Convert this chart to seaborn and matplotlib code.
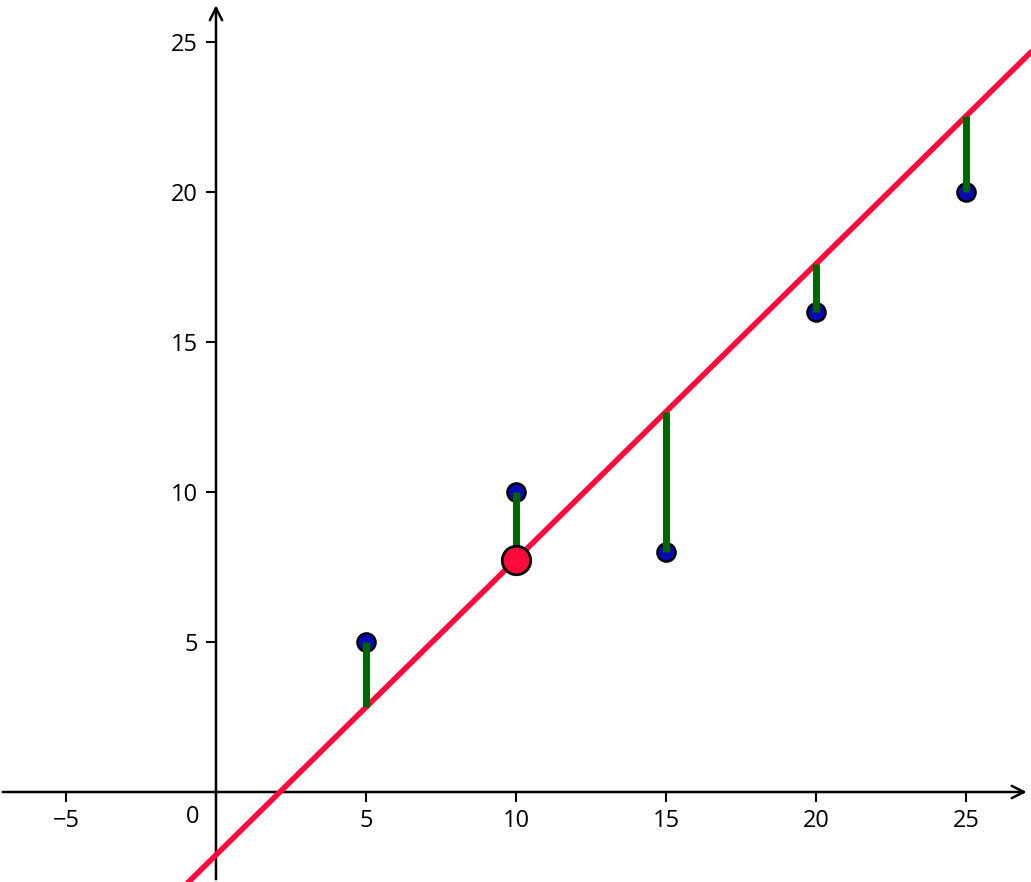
import numpy as np
import pandas as pd
import seaborn as sns
import matplotlib.pyplot as plt

# data points
pts_x = [5, 10, 15, 20, 25]
pts_y = [5, 10, 8, 16, 20]

# fitted line and the red point on it
line_slope = 0.985
line_icpt = -2.1
red_x = [10]

x_ticks = [-5, 5, 10, 15, 20, 25]
y_ticks = [5, 10, 15, 20, 25]

sns.set_style("white")
plt.rcParams['font.family'] = ['Open Sans', 'DejaVu Sans']

fig = plt.figure(figsize=(10.31, 8.82), dpi=100)
ax = fig.add_axes([0, 0, 1, 1])
xmin, xmax = -7.2, 27.17
ymin, ymax = -3.0, 26.4
ax.set_xlim(xmin, xmax)
ax.set_ylim(ymin, ymax)

df = pd.DataFrame({"x": pts_x, "y": pts_y})
line_x = np.array([xmin, xmax])
line_df = pd.DataFrame({"x": line_x, "y": line_slope * line_x + line_icpt})
fit_y = line_slope * np.array(pts_x) + line_icpt

# axes with arrows
ax.annotate("", xy=(xmax - 0.05, 0), xytext=(xmin, 0),
            arrowprops=dict(arrowstyle="->", lw=1.8, color="black", mutation_scale=22), zorder=1)
ax.annotate("", xy=(0, ymax - 0.08), xytext=(0, ymin),
            arrowprops=dict(arrowstyle="->", lw=1.8, color="black", mutation_scale=22), zorder=1)

for s in ["top", "right", "left", "bottom"]:
    ax.spines[s].set_visible(False)
ax.set_xticks(x_ticks)
ax.set_yticks(y_ticks)
ax.tick_params(axis="x", direction="out", length=7, width=1.5, pad=5, labelsize=17,
               color="black", labelcolor="black")
ax.tick_params(axis="y", direction="out", length=7, width=1.5, pad=6, labelsize=17,
               color="black", labelcolor="black")
ax.xaxis.set_ticks_position("bottom")
ax.yaxis.set_ticks_position("left")
ax.spines["bottom"].set_position(("data", 0))
ax.spines["left"].set_position(("data", 0))
ax.text(-0.77, -0.83, "0", ha="center", va="center", fontsize=17, color="black")

# regression line
sns.lineplot(data=line_df, x="x", y="y", color="#ff0a3c", lw=4, ax=ax, zorder=2)

# points and residuals
sns.scatterplot(data=df, x="x", y="y", color="#0a0ab4", edgecolor="black",
                linewidth=1.8, s=170, ax=ax, zorder=3)
ax.vlines(pts_x, pts_y, fit_y, colors="#006400", lw=5, zorder=4)

red_df = pd.DataFrame({"x": red_x, "y": line_slope * np.array(red_x) + line_icpt})
sns.scatterplot(data=red_df, x="x", y="y", color="#ff0a3c", edgecolor="black",
                linewidth=2, s=420, ax=ax, zorder=5)

ax.set_xlabel("")
ax.set_ylabel("")
fig.savefig("out.png", dpi=100)
